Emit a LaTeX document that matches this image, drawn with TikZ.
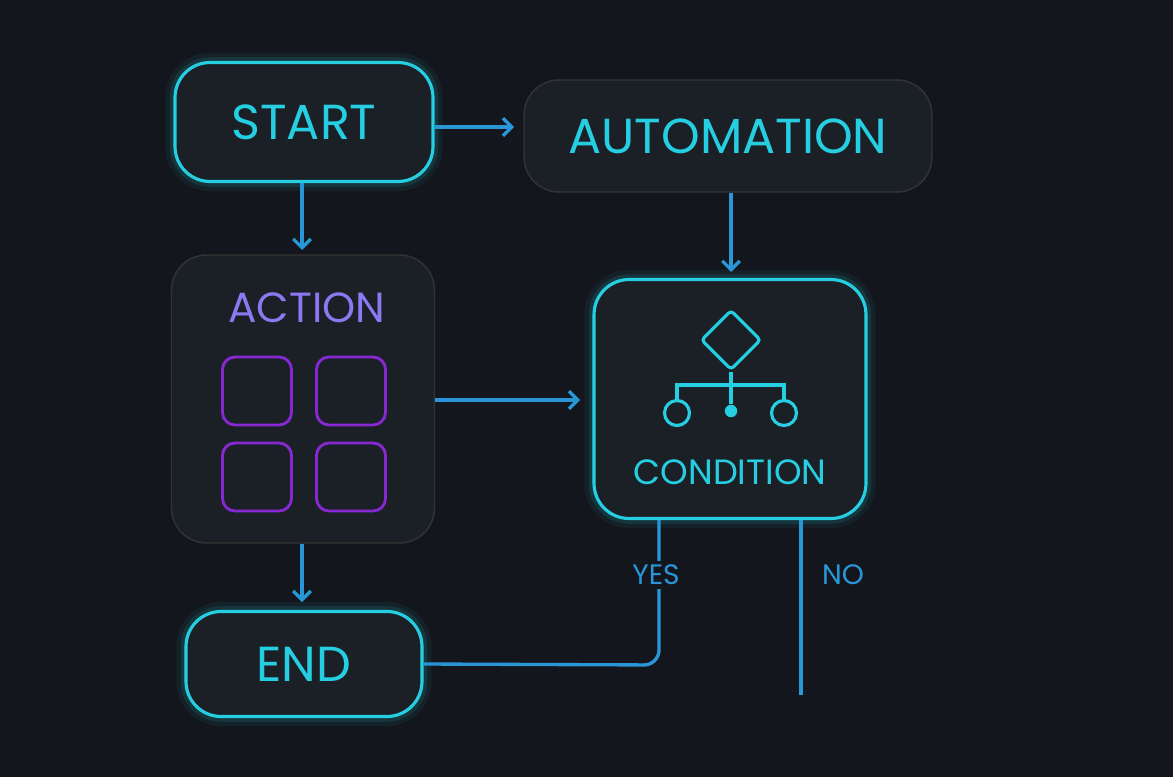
\documentclass[tikz,border=0pt]{standalone}
\usepackage{fontspec}
\setmainfont{Poppins}
\usetikzlibrary{calc}
\usetikzlibrary{arrows.meta}
\usetikzlibrary{shapes.geometric}
\definecolor{bgdark}{RGB}{19,23,29}
\definecolor{boxdark}{RGB}{27,31,38}
\definecolor{neon}{RGB}{38,206,226}
\definecolor{wire}{RGB}{40,150,215}
\definecolor{violet}{RGB}{140,120,240}
\definecolor{grid}{RGB}{135,40,210}
\tikzset{glow/.style={preaction={draw=#1,draw opacity=0.12,line width=6pt},
  preaction={draw=#1,draw opacity=0.06,line width=11pt}}}
\tikzset{lit/.style={rectangle,rounded corners=0.7cm,draw=neon,line width=1.8pt,fill=boxdark,glow=neon,text=neon,font=\fontsize{28}{30}\selectfont}}
\tikzset{dim/.style={rectangle,rounded corners=0.7cm,draw=black!60!gray,line width=0.8pt,fill=boxdark,text=neon,font=\fontsize{28}{30}\selectfont}}
\tikzset{tile/.style={rectangle,rounded corners=0.25cm,draw=grid,line width=1.6pt,minimum width=1.38cm,minimum height=1.36cm}}
\tikzset{link/.style={draw=wire,line width=1.9pt}}
\tikzset{tip/.style={-{Straight Barb[length=5pt,width=10pt]}}}
\begin{document}
\begin{tikzpicture}[x=0.02cm,y=-0.02cm]
\fill[bgdark] (0,0) rectangle (1173,777);
\node[lit,minimum width=5.16cm,minimum height=2.38cm] (start) at (304,122) {START};
\node[dim,minimum width=8.16cm,minimum height=2.24cm] (auto) at (728,136) {AUTOMATION};
\node[dim,minimum width=5.26cm,minimum height=5.76cm] (action) at (303,399) {};
\node[text=violet,font=\fontsize{24}{26}\selectfont] (actlbl) at (307,308) {ACTION};
\node[tile] (t1) at (257,391) {};
\node[tile] (t2) at (351,391) {};
\node[tile] (t3) at (257,477) {};
\node[tile] (t4) at (351,477) {};
\node[lit,minimum width=5.44cm,minimum height=4.78cm] (cond) at (730,399) {};
\node[text=neon,font=\fontsize{20}{22}\selectfont] (condlbl) at (730,472) {CONDITION};
\node[lit,minimum width=4.72cm,minimum height=2.1cm] (finish) at (304,664) {END};
% condition icon
\node[diamond,draw=neon,line width=1.8pt,rounded corners=2pt,minimum width=1.2cm,minimum height=1.2cm] (dia) at (731,340) {};
\node[circle,draw=neon,line width=1.8pt,minimum size=0.5cm] (c1) at (677,413) {};
\node[circle,draw=neon,line width=1.8pt,minimum size=0.5cm] (c2) at (784,413) {};
\node[circle,fill=neon,inner sep=2.5pt] (dot) at (731,411) {};
\draw[neon,line width=1.8pt] (dia.south) -- (dot);
\draw[neon,line width=1.8pt] (c1.north) |- (731,385) -| (c2.north);
% connectors
\draw[link,tip] (start.east |- 0,127) -- (514,127);
\draw[link,tip] (start.south -| 302,0) -- (302,250);
\draw[link,tip] (auto.south -| 731,0) -- (731,272);
\draw[link,tip] (action.east |- 0,400) -- (580,400);
\draw[link,tip] (action.south -| 302,0) -- (302,602);
\coordinate (yesbend) at (659,665);
\coordinate (noend) at (801,695);
\draw[link,rounded corners=0.3cm] (cond.south -| 659,0) -- (yesbend) -- (finish.east);
\draw[link] (cond.south -| 801,0) -- (noend);
\node[fill=bgdark,text=wire,font=\fontsize{16}{18}\selectfont,inner sep=2pt] (yes) at (656,575) {YES};
\node[text=wire,font=\fontsize{16}{18}\selectfont] (no) at (843,575) {NO};
\end{tikzpicture}
\end{document}
